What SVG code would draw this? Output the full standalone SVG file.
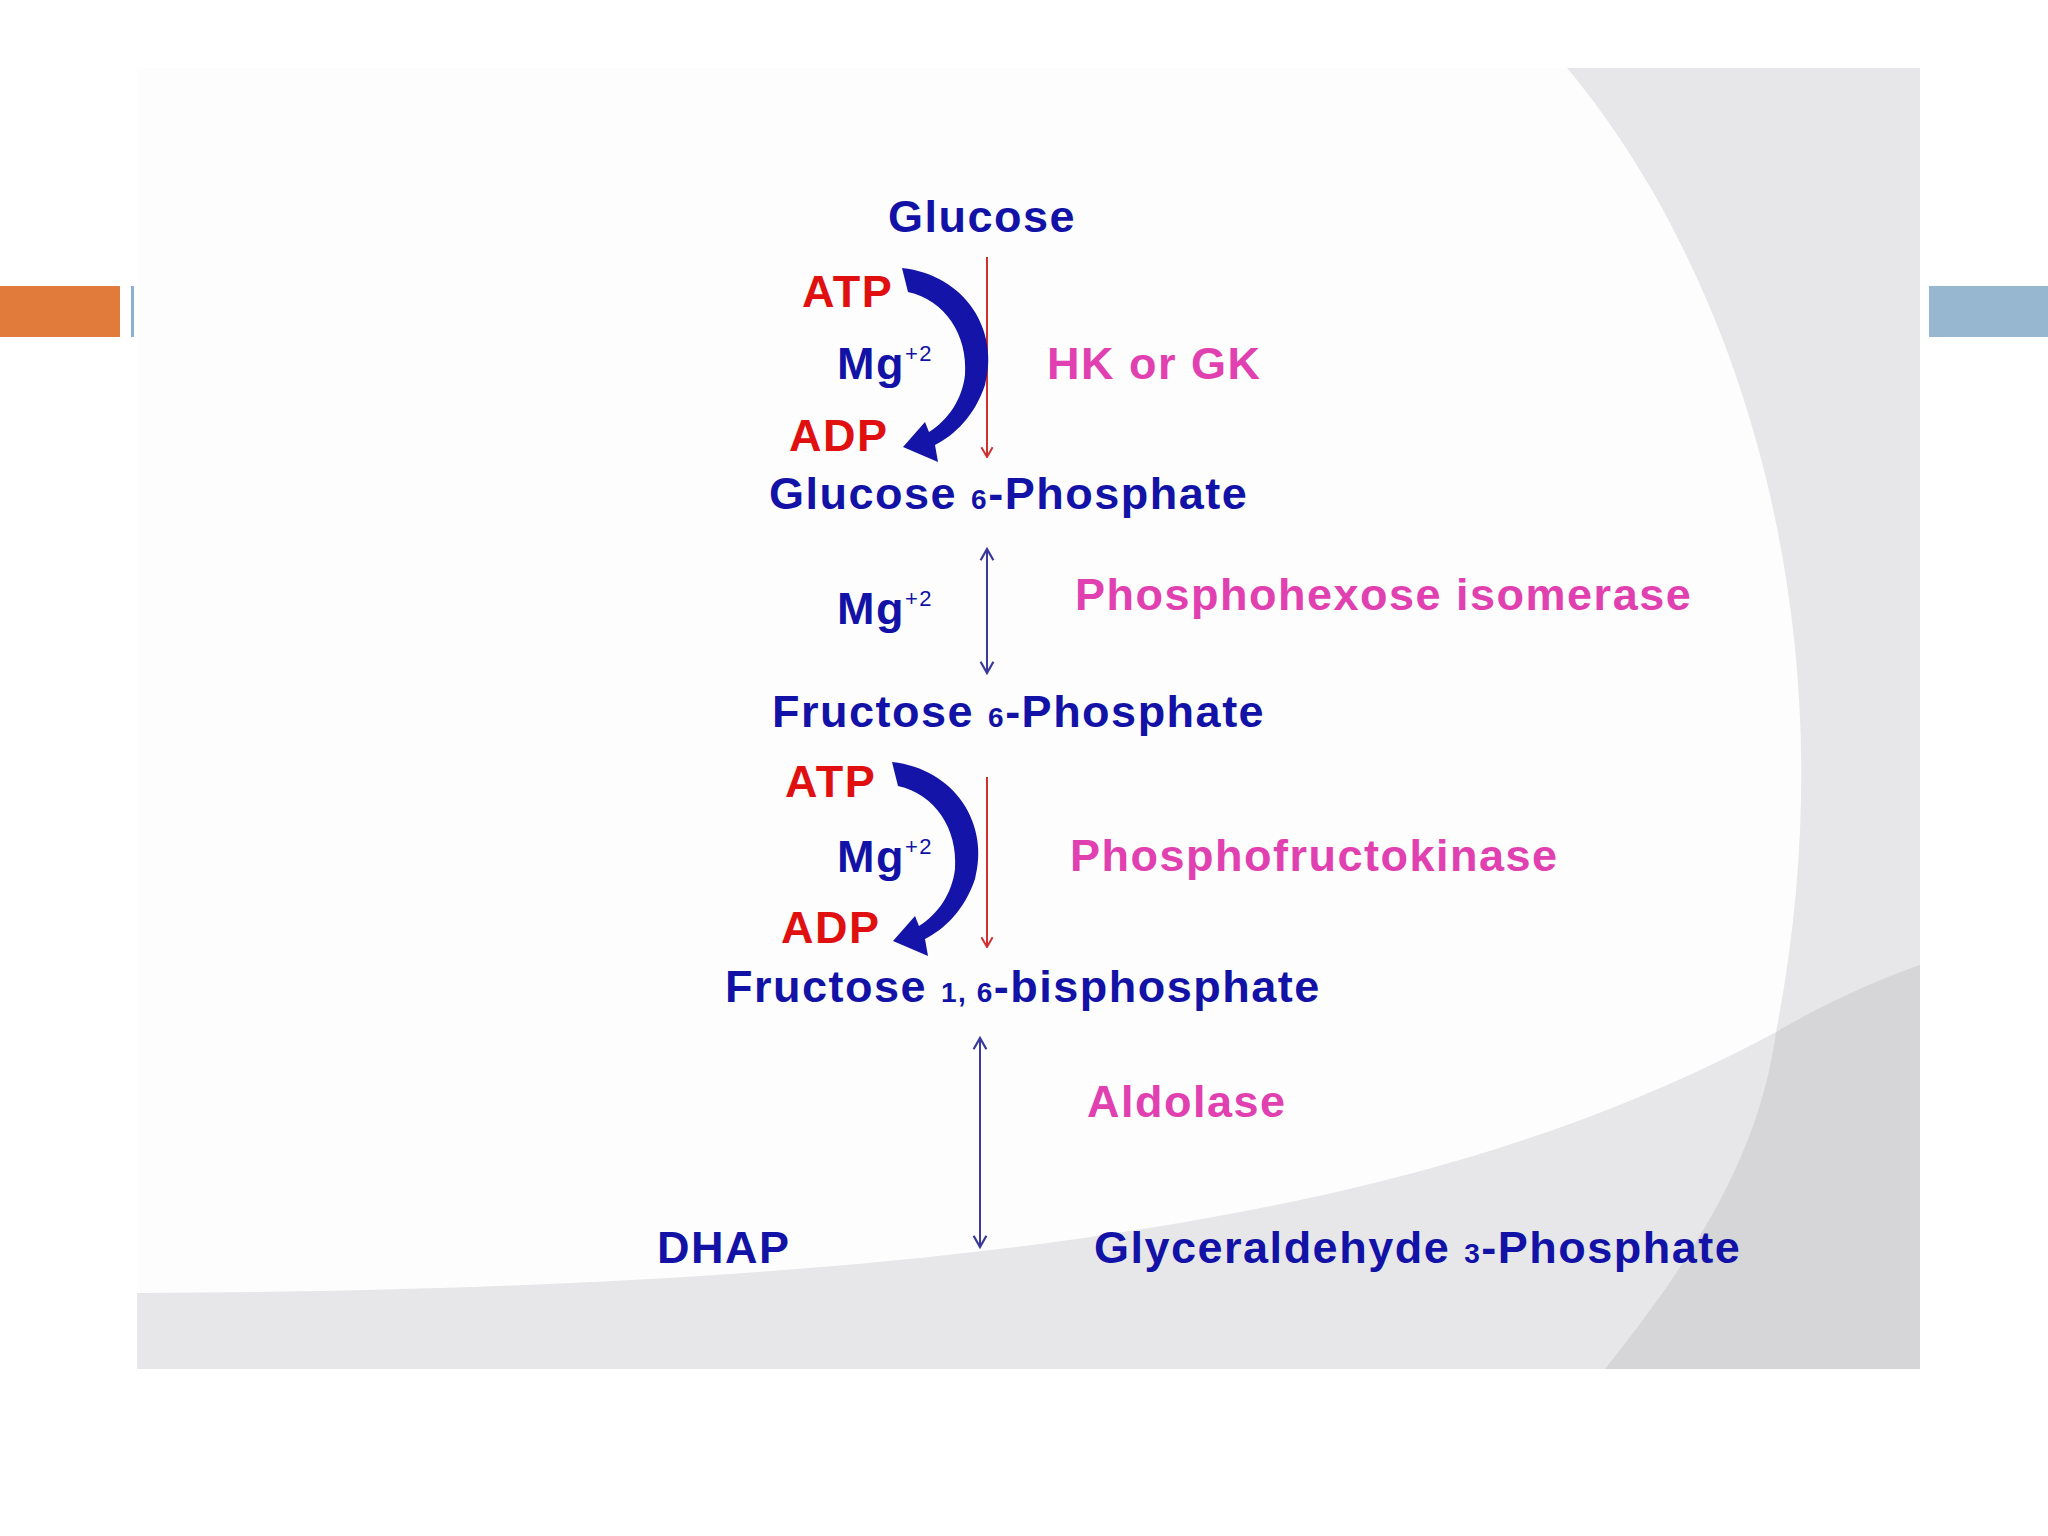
<svg xmlns="http://www.w3.org/2000/svg" width="2048" height="1536" viewBox="0 0 2048 1536">
<defs>
<marker id="chevR" viewBox="0 0 10 10" refX="9" refY="5" markerWidth="14" markerHeight="14" markerUnits="userSpaceOnUse" orient="auto-start-reverse"><path d="M2,1 L9,5 L2,9" fill="none" stroke="#d03030" stroke-width="1.4"/></marker>
<marker id="chevB" viewBox="0 0 10 10" refX="9" refY="5" markerWidth="16" markerHeight="16" markerUnits="userSpaceOnUse" orient="auto-start-reverse"><path d="M2,1 L9,5 L2,9" fill="none" stroke="#3a3a9a" stroke-width="1.4"/></marker>
<path id="bend" d="M902,268 C965,275 1000,330 985,385 C975,415 955,435 935,445 L938,462 L903,447 L925,422 L929,432 C948,420 962,400 965,375 C968,335 945,300 908,292 Z"/>
</defs>
<style>
text{font-family:"Liberation Sans",Arial,sans-serif;font-weight:bold;font-size:45px;letter-spacing:1.5px}
.b{fill:#1212a6}.r{fill:#e01010}.p{fill:#e040b0}
.s{font-size:22px;font-weight:normal}.n{font-size:28px}
</style>
<rect width="2048" height="1536" fill="#fff"/>
<g id="background">
<rect x="137" y="68" width="1783" height="1301" fill="#e7e7e9"/>
<path d="M1776,1032 C1830,1000 1890,975 1920,965 L1920,1369 L1605,1369 C1700,1250 1760,1150 1776,1032 Z" fill="#d6d6d8"/>
<path d="M137,68 L1567,68 C1720,250 1860,600 1776,1032 C1500,1180 1100,1290 137,1293 Z" fill="#fdfdfd"/>
<rect x="0" y="286" width="120" height="51" fill="#e07b3c"/>
<rect x="131" y="286" width="3" height="51" fill="#8fb0d6"/>
<rect x="1929" y="286" width="119" height="51" fill="#97b6d0"/>
</g>
<g id="connectors">
<line x1="987" y1="257" x2="987" y2="457" stroke="#d03030" stroke-width="2" marker-end="url(#chevR)"/>
<line x1="987" y1="777" x2="987" y2="947" stroke="#d03030" stroke-width="2" marker-end="url(#chevR)"/>
<line x1="987" y1="549" x2="987" y2="673" stroke="#3a3a9a" stroke-width="2" marker-start="url(#chevB)" marker-end="url(#chevB)"/>
<line x1="980" y1="1038" x2="980" y2="1247" stroke="#3a3a9a" stroke-width="2" marker-start="url(#chevB)" marker-end="url(#chevB)"/>
<use href="#bend" fill="#1414a8"/>
<use href="#bend" fill="#1414a8" transform="translate(-10,494)"/>
</g>
<g id="glucose"><text x="888" y="232" class="b">Glucose</text></g>
<g id="atp1"><text x="802" y="307" class="r">ATP</text></g>
<g id="mg1"><text x="837" y="379" class="b">Mg<tspan class="s" dy="-18">+2</tspan></text></g>
<g id="hk"><text x="1047" y="379" class="p">HK or GK</text></g>
<g id="adp1"><text x="789" y="451" class="r">ADP</text></g>
<g id="g6p"><text x="769" y="509" class="b">Glucose <tspan class="n">6</tspan>-Phosphate</text></g>
<g id="mg2"><text x="837" y="624" class="b">Mg<tspan class="s" dy="-18">+2</tspan></text></g>
<g id="phi"><text x="1075" y="610" class="p">Phosphohexose isomerase</text></g>
<g id="f6p"><text x="772" y="727" class="b">Fructose <tspan class="n">6</tspan>-Phosphate</text></g>
<g id="atp2"><text x="785" y="797" class="r">ATP</text></g>
<g id="mg3"><text x="837" y="872" class="b">Mg<tspan class="s" dy="-18">+2</tspan></text></g>
<g id="pfk"><text x="1070" y="871" class="p">Phosphofructokinase</text></g>
<g id="adp2"><text x="781" y="943" class="r">ADP</text></g>
<g id="f16bp"><text x="725" y="1002" class="b">Fructose <tspan class="n">1, 6</tspan>-bisphosphate</text></g>
<g id="aldolase"><text x="1087" y="1117" class="p">Aldolase</text></g>
<g id="dhap"><text x="657" y="1263" class="b">DHAP</text></g>
<g id="g3p"><text x="1094" y="1263" class="b">Glyceraldehyde <tspan class="n">3</tspan>-Phosphate</text></g>
</svg>
